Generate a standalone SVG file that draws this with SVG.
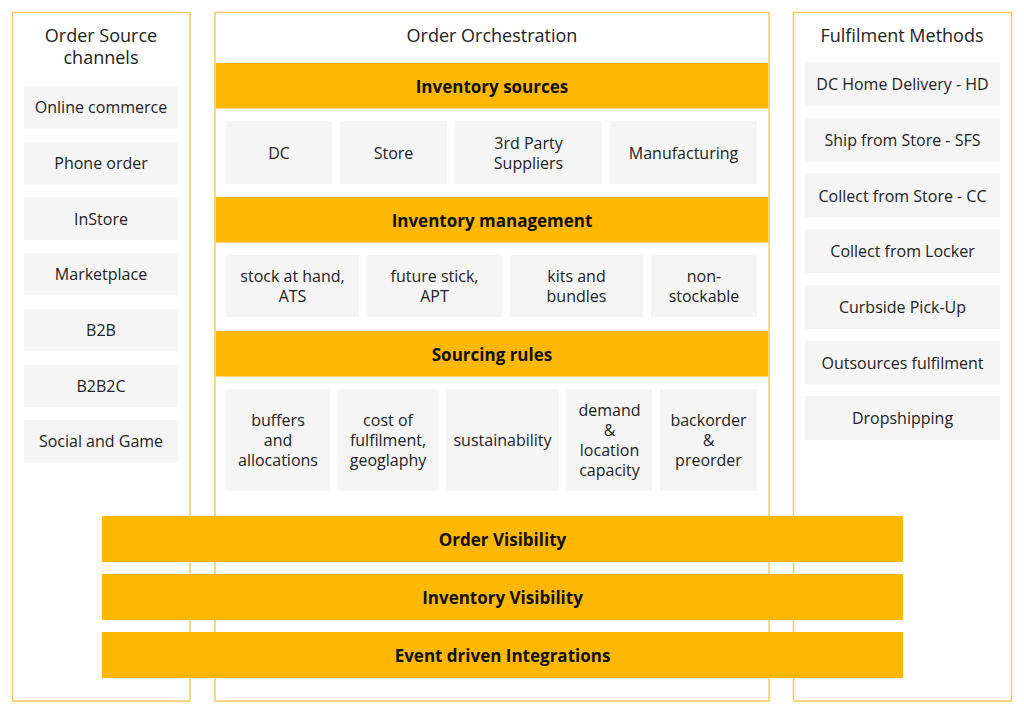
<svg xmlns="http://www.w3.org/2000/svg" width="1024" height="714" viewBox="0 0 1024 714">
<style>
.panel{fill:#ffffff;stroke:#f3cd5e;stroke-width:1.5}
.cell{fill:#f5f5f5}
.band{fill:#ffb700}
text{font-family:"Open Sans","Noto Sans","Liberation Sans",sans-serif;fill:#222222;text-anchor:middle;dominant-baseline:central}
.t{font-size:16px}
.h{font-size:18px}
.b{font-size:17px;font-weight:700;fill:#111111}
</style>
<rect width="1024" height="714" fill="#ffffff"/>
<g id="panel-sources">
<rect class="panel" x="12.5" y="12.5" width="177.5" height="688.5"/>
<text class="h" x="101" y="35">Order Source</text>
<text class="h" x="101" y="57">channels</text>
</g>
<g id="panel-orchestration">
<rect class="panel" x="215" y="12.5" width="554" height="688.5"/>
<text class="h" x="492" y="35">Order Orchestration</text>
</g>
<g id="panel-fulfilment">
<rect class="panel" x="793.5" y="12.5" width="218" height="688.5"/>
<text class="h" x="902" y="35">Fulfilment Methods</text>
</g>
<g id="sources-list">
<g id="src-online"><rect class="cell" x="24" y="86" width="154" height="42.5"/><text class="t" x="101" y="107">Online commerce</text></g>
<g id="src-phone"><rect class="cell" x="24" y="142" width="154" height="42.5"/><text class="t" x="101" y="163">Phone order</text></g>
<g id="src-instore"><rect class="cell" x="24" y="197.5" width="154" height="42.5"/><text class="t" x="101" y="218.5">InStore</text></g>
<g id="src-marketplace"><rect class="cell" x="24" y="253" width="154" height="42.5"/><text class="t" x="101" y="274">Marketplace</text></g>
<g id="src-b2b"><rect class="cell" x="24" y="309" width="154" height="42.5"/><text class="t" x="101" y="330">B2B</text></g>
<g id="src-b2b2c"><rect class="cell" x="24" y="364.5" width="154" height="42.5"/><text class="t" x="101" y="385.5">B2B2C</text></g>
<g id="src-social"><rect class="cell" x="24" y="420" width="154" height="42.5"/><text class="t" x="101" y="441">Social and Game</text></g>
</g>
<g id="fulfilment-list">
<g id="ful-hd"><rect class="cell" x="805" y="62" width="195" height="44"/><text class="t" x="902.5" y="84">DC Home Delivery - HD</text></g>
<g id="ful-sfs"><rect class="cell" x="805" y="118" width="195" height="44"/><text class="t" x="902.5" y="140">Ship from Store - SFS</text></g>
<g id="ful-cc"><rect class="cell" x="805" y="173.5" width="195" height="44"/><text class="t" x="902.5" y="195.5">Collect from Store - CC</text></g>
<g id="ful-locker"><rect class="cell" x="805" y="229" width="195" height="44"/><text class="t" x="902.5" y="251">Collect from Locker</text></g>
<g id="ful-curbside"><rect class="cell" x="805" y="285" width="195" height="44"/><text class="t" x="902.5" y="307">Curbside Pick-Up</text></g>
<g id="ful-outsourced"><rect class="cell" x="805" y="340.5" width="195" height="44"/><text class="t" x="902.5" y="362.5">Outsources fulfilment</text></g>
<g id="ful-drop"><rect class="cell" x="805" y="396" width="195" height="44"/><text class="t" x="902.5" y="418">Dropshipping</text></g>
</g>
<g id="inventory-sources">
<rect class="band" x="215.75" y="63" width="552.5" height="45.5"/>
<text class="b" x="492" y="86">Inventory sources</text>
<g id="is-dc"><rect class="cell" x="226" y="121" width="106" height="63"/><text class="t" x="279" y="152.5">DC</text></g>
<g id="is-store"><rect class="cell" x="340" y="121" width="107" height="63"/><text class="t" x="393.5" y="152.5">Store</text></g>
<g id="is-3rd"><rect class="cell" x="455" y="121" width="147" height="63"/><text class="t" x="528.5" y="142.5">3rd Party</text><text class="t" x="528.5" y="162.5">Suppliers</text></g>
<g id="is-manu"><rect class="cell" x="610" y="121" width="147" height="63"/><text class="t" x="683.5" y="152.5">Manufacturing</text></g>
</g>
<g id="inventory-management">
<rect class="band" x="215.75" y="197" width="552.5" height="45.5"/>
<text class="b" x="492" y="220">Inventory management</text>
<g id="im-stock"><rect class="cell" x="226" y="255" width="133" height="62"/><text class="t" x="292.5" y="276">stock at hand,</text><text class="t" x="292.5" y="296">ATS</text></g>
<g id="im-future"><rect class="cell" x="367" y="255" width="135" height="62"/><text class="t" x="434.5" y="276">future stick,</text><text class="t" x="434.5" y="296">APT</text></g>
<g id="im-kits"><rect class="cell" x="510" y="255" width="133" height="62"/><text class="t" x="576.5" y="276">kits and</text><text class="t" x="576.5" y="296">bundles</text></g>
<g id="im-non"><rect class="cell" x="651" y="255" width="106" height="62"/><text class="t" x="704" y="276">non-</text><text class="t" x="704" y="296">stockable</text></g>
</g>
<g id="sourcing-rules">
<rect class="band" x="215.75" y="331" width="552.5" height="45.5"/>
<text class="b" x="492" y="354">Sourcing rules</text>
<g id="sr-buffers"><rect class="cell" x="226" y="389" width="104" height="102"/><text class="t" x="278" y="420">buffers</text><text class="t" x="278" y="440">and</text><text class="t" x="278" y="460">allocations</text></g>
<g id="sr-cost"><rect class="cell" x="338" y="389" width="100" height="102"/><text class="t" x="388" y="420">cost of</text><text class="t" x="388" y="440">fulfilment,</text><text class="t" x="388" y="460">geoglaphy</text></g>
<g id="sr-sust"><rect class="cell" x="446" y="389" width="113" height="102"/><text class="t" x="502.5" y="440">sustainability</text></g>
<g id="sr-demand"><rect class="cell" x="567" y="389" width="85" height="102"/><text class="t" x="609.5" y="410">demand</text><text class="t" x="609.5" y="430">&amp;</text><text class="t" x="609.5" y="450">location</text><text class="t" x="609.5" y="470">capacity</text></g>
<g id="sr-back"><rect class="cell" x="660" y="389" width="97" height="102"/><text class="t" x="708.5" y="420">backorder</text><text class="t" x="708.5" y="440">&amp;</text><text class="t" x="708.5" y="460">preorder</text></g>
</g>
<g id="order-visibility"><rect class="band" x="102" y="516" width="801" height="46"/><text class="b" x="502.5" y="539">Order Visibility</text></g>
<g id="inventory-visibility"><rect class="band" x="102" y="574" width="801" height="46"/><text class="b" x="502.5" y="597">Inventory Visibility</text></g>
<g id="event-integrations"><rect class="band" x="102" y="632" width="801" height="46"/><text class="b" x="502.5" y="655">Event driven Integrations</text></g>
<g id="connectors"></g>
</svg>
